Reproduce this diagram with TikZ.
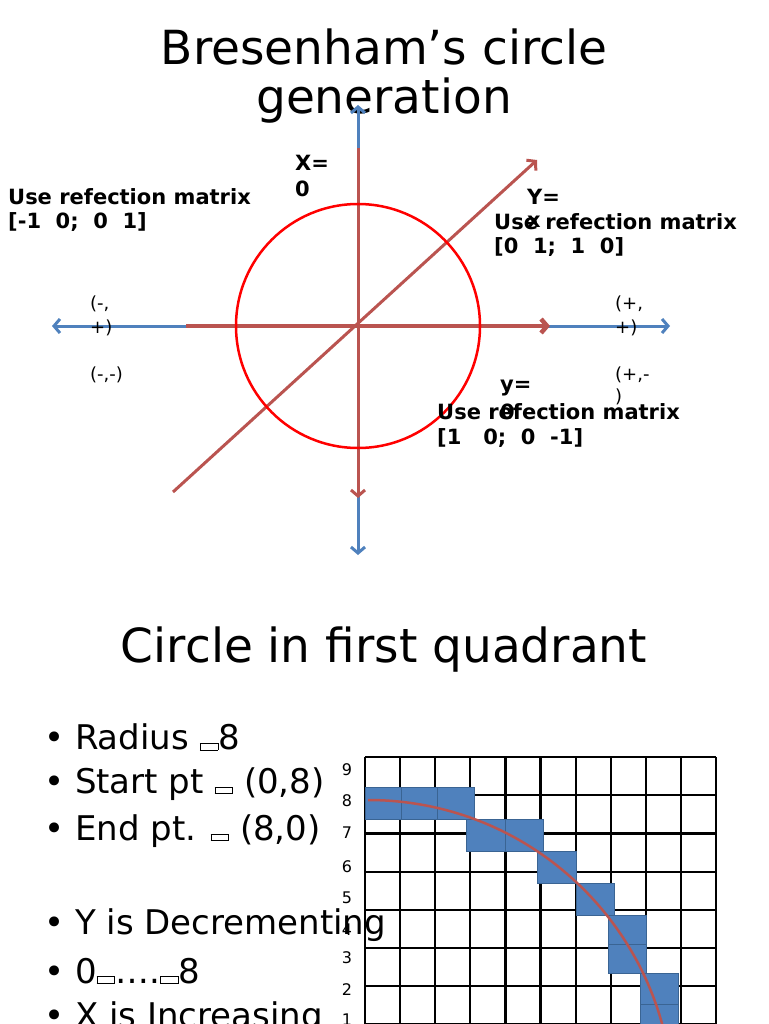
\documentclass[tikz,border=0pt]{standalone}
\usepackage{fontspec}
\setmainfont{DejaVu Sans}
\usetikzlibrary{arrows.meta}
\definecolor{axblue}{HTML}{4F81BD}
\definecolor{brn}{HTML}{BA5450}
\definecolor{cellblue}{HTML}{4F81BD}
\definecolor{cellborder}{HTML}{3A6493}
\newcommand\bx{{\setlength\fboxsep{0pt}\setlength\fboxrule{0.8pt}\fbox{\rule{0pt}{6pt}\hspace{17pt}}}}
\tikzset{
 blueax/.style={draw=axblue,line width=3pt,{Straight Barb[length=6pt,width=14pt]}-{Straight Barb[length=6pt,width=14pt]}},
 brnax/.style={draw=brn,line width=3pt,-{Straight Barb[length=6pt,width=14pt]}},
 title/.style={font=\fontsize{47}{52}\selectfont},
 lbl/.style={font=\bfseries\fontsize{21}{24}\selectfont,anchor=west,inner sep=0pt},
 sm/.style={font=\fontsize{18}{21}\selectfont,anchor=west,inner sep=0pt},
 bul/.style={font=\fontsize{34}{38}\selectfont,anchor=west,inner sep=0pt},
 num/.style={font=\fontsize{16}{18}\selectfont,inner sep=0pt},
 cell/.style={fill=cellblue,draw=cellborder,line width=1pt},
}
\begin{document}
\begin{tikzpicture}[x=1pt,y=-1pt]
\useasboundingbox (0,0) rectangle (768,1024);
\clip (0,0) rectangle (768,1024);
\node[title] (t1) at (384,47) {Bresenham’s circle};
\node[title] (t2) at (384,101) {generation};
% axes
\coordinate (vt) at (358,105); \coordinate (vb) at (358,555);
\coordinate (hl) at (52,326); \coordinate (hr) at (670,326);
\draw[blueax] (vt) -- (vb);
\draw[blueax] (hl) -- (hr);
\coordinate (bvt) at (358,148); \coordinate (bvb) at (358,498);
\coordinate (bhl) at (186,326); \coordinate (bhr) at (550,326);
\coordinate (dl) at (173,492); \coordinate (dr) at (537,160);
\draw[brnax] (bvt) -- (bvb);
\draw[brnax,line width=4.5pt] (bhl) -- (bhr);
\draw[brnax] (dl) -- (dr);
\node[draw=red,line width=2.5pt,circle,minimum size=244pt,inner sep=0pt] (circ) at (358,326) {};
% labels
\node[lbl] (x1) at (295,163) {X=};
\node[lbl] (x2) at (295,189) {0};
\node[lbl] (l1) at (8,197) {Use refection matrix};
\node[lbl] (l2) at (8,222) {[-1\ \ 0;\ \ 0\ \ 1]};
\node[lbl] (y1) at (527,197) {Y=};
\node[lbl] (y2) at (527,222) {x};
\node[lbl] (r1) at (494,222) {Use refection matrix};
\node[lbl] (r2) at (494,247) {[0\ \ 1;\ \ 1\ \ 0]};
\node[lbl] (z1) at (500,388) {y=};
\node[lbl] (z2) at (500,412) {0};
\node[lbl] (s1) at (437,412) {Use refection matrix};
\node[lbl] (s2) at (437,438) {[1\ \ \ 0;\ \ 0\ \ -1]};
\node[sm] (q1) at (90,304) {(-,};
\node[sm] (q1b) at (90,328) {+)};
\node[sm] (q2) at (90,375) {(-,-)};
\node[sm] (q3) at (615,304) {(+,};
\node[sm] (q3b) at (615,328) {+)};
\node[sm] (q4) at (615,375) {(+,-};
\node[sm] (q4b) at (615,397) {)};
\node[title] (t3) at (384,650) {Circle in first quadrant};
% grid
\foreach \i in {0,...,10} \draw[line width=2.2pt] ({365+35.1*\i},757) -- ({365+35.1*\i},1030);
\foreach \j in {0,...,7} \draw[line width=2.2pt] (365,{757+38.2*\j}) -- (716,{757+38.2*\j});
% cells
\foreach \a/\b/\c/\d in {365/787/401/819,401/787/437/819,437/787/474/819,
 466/819/505/851,505/819/543/851,537/851/576/883,576/883/614/915,
 608/915/646/944,608/944/646/973,640/973/678/1004,640/1004/678/1035}
 \draw[cell] (\a,\b) rectangle (\c,\d);
% arc
\draw[brn,line width=2.5pt] (368,800) arc[start angle=90,end angle=0,x radius=305,y radius=-305];
\foreach \n/\yy in {9/770,8/801,7/833,6/867,5/898,4/930,3/958,2/990,1/1020}
 \node[num] (n\n) at (347,\yy) {\n};
% bullets
\node[bul] (b1) at (44,737) {•\ Radius \bx8};
\node[bul] (b2) at (44,784) {•\ Start pt \bx\ (0,8)};
\node[bul] (b3) at (44,831) {•\ End pt. \bx\ (8,0)};
\node[bul] (b4) at (44,925) {•\ Y is Decrementing};
\node[bul] (b5) at (44,971) {•\ 0\bx….\bx8};
\node[bul] (b6) at (44,1018) {•\ X is Increasing};
\end{tikzpicture}
\end{document}
